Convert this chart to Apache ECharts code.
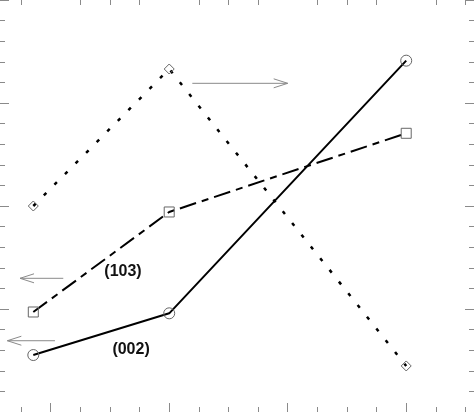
<!DOCTYPE html>
<html><head><meta charset="utf-8">
<script src="https://cdn.jsdelivr.net/npm/echarts@6/dist/echarts.min.js"></script>
<style>html,body{margin:0;padding:0;background:#fff}#c{width:474px;height:412px}</style>
</head><body><div id="c"></div>
<script>
// data (x in arbitrary units, major tick every 1)
const xValues = [0.853, 2, 4];
const series002 = [0.553, 0.958, 3.411];   // solid, circles
const series103 = [0.971, 1.942, 2.706];   // dash, squares
const seriesDot = [2.0, 3.33, 0.447];      // dotted, diamonds
const xMajorTicks = [1, 2, 3, 4];
const xMinorTicks = [0.75, 1.25, 1.5, 1.75, 2.25, 2.5, 2.75, 3.25, 3.5, 3.75, 4.25, 4.5];
const textLabels = [
  {text: '(103)', x: 1.61, y: 1.359},
  {text: '(002)', x: 1.678, y: 0.602}
];
const arrowsFrom = [[2.195, 3.191], [1.106, 1.298], [1.036, 0.692]];
const arrowsTo   = [[3.0, 3.191], [0.741, 1.298], [0.634, 0.692]];

const chart = echarts.init(document.getElementById('c'), null, {renderer: 'canvas'});
const tickGray = '#8a8a8a';
const X_MIN = 0.572, X_MAX = 4.572;
function pairs(vals){ return xValues.map((x,i)=>[x, vals[i]]); }
function xAx(pos, ticks, len, line){
  return {type:'value', position:pos, min:X_MIN, max:X_MAX,
    axisLine:{show: !!line, lineStyle:{color:'#d0d0d0', width:1}},
    axisTick:{show:true, inside:true, length:len, customValues:ticks, lineStyle:{color:tickGray, width:1}},
    axisLabel:{show:false}, splitLine:{show:false}};
}
function yAx(pos, show){
  return {type:'value', position:pos, min:0, max:4, interval:1, show:show,
    axisLine:{show:false},
    axisTick:{show:true, inside:true, length:9, lineStyle:{color:tickGray, width:1}},
    minorTick:{show:true, splitNumber:5, length:5, lineStyle:{color:tickGray, width:1}},
    axisLabel:{show:false}, splitLine:{show:false}};
}
const mk = {color:'rgba(0,0,0,0)', borderColor:'#666', borderWidth:1};
chart.setOption({
  animation:false,
  backgroundColor:'#fff',
  grid:{left:0, right:0, top:0, bottom:0},
  xAxis:[
    xAx('bottom', xMajorTicks, 9, false),
    xAx('top', xMajorTicks, 9, true),
    xAx('bottom', xMinorTicks, 5, false),
    xAx('top', xMinorTicks, 5, false)
  ],
  yAxis:[yAx('left', true), yAx('right', true)],
  series:[
    {type:'line', xAxisIndex:0, yAxisIndex:0, data:pairs(series002),
      symbol:'circle', symbolSize:11, itemStyle:mk,
      lineStyle:{color:'#000', width:2}},
    {type:'line', xAxisIndex:0, yAxisIndex:0, data:pairs(series103),
      symbol:'rect', symbolSize:10, itemStyle:mk,
      lineStyle:{color:'#000', width:2, type:[17,6,7,6]}},
    {type:'line', xAxisIndex:0, yAxisIndex:0, data:pairs(seriesDot),
      symbol:'diamond', symbolSize:10, itemStyle:mk,
      lineStyle:{color:'#000', width:2.5, type:[3.5,11.5]}}
  ]
});

const graphics = [];
const conv = p => chart.convertToPixel({xAxisIndex:0, yAxisIndex:0}, p);
arrowsFrom.forEach((f, i) => {
  const a = conv(f), b = conv(arrowsTo[i]);
  const dir = b[0] > a[0] ? 1 : -1;
  graphics.push({type:'polyline', shape:{points:[a, b]}, style:{stroke:'#8a8a8a', lineWidth:1, fill:null}, silent:true});
  graphics.push({type:'polyline', shape:{points:[[b[0]-dir*14, b[1]-4.5], b, [b[0]-dir*14, b[1]+4.5]]}, style:{stroke:'#8a8a8a', lineWidth:1, fill:null}, silent:true});
});
textLabels.forEach(t => {
  const p = conv([t.x, t.y]);
  graphics.push({type:'text', x:p[0], y:p[1], style:{text:t.text, fill:'#111',
    font:'bold 16px "Liberation Sans", Arial, sans-serif', align:'center', verticalAlign:'middle'}, silent:true});
});
chart.setOption({graphic: graphics});
</script></body></html>
